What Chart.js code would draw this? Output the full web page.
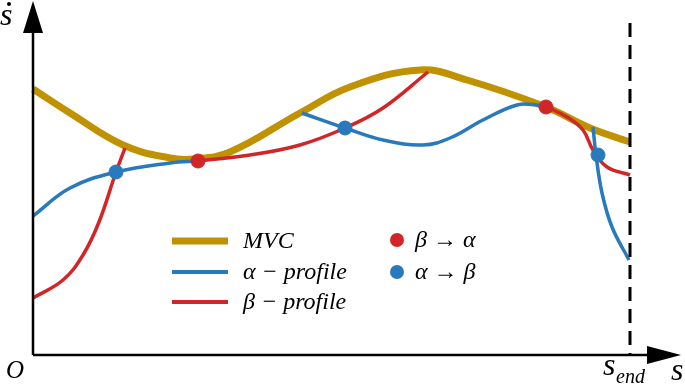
<!DOCTYPE html>
<html>
<head>
<meta charset="utf-8">
<script src="https://cdn.jsdelivr.net/npm/chart.js@4"></script>
<style>
  html, body { margin:0; padding:0; background:#fff; }
  #wrap { width:685px; height:384px; position:relative; }
  .probe { position:absolute; left:0; top:0; font:italic 24px "Liberation Serif"; color:transparent; }
</style>
</head>
<body>
<div class="probe">MVC profile s O end</div>
<div id="wrap"><canvas id="phaseChart"></canvas></div>
<div id="note" style="position:absolute;left:-9999px;top:0"></div>
<script>
// values (x: s, y: s-dot, arbitrary units)
const mvc = [[0,266],[37,242],[90,210],[137,197],[160,196],[197,203],[267,242],[317,268],[387,285],[434,275],[513,248],[557,227],[597,213]];

const alpha1 = [[0,139],[37,167],[83,183],[137,192],[165,194]];
const alpha2 = [[269,242],[312,227],[350,215],[390,210],[417,217],[450,235],[484,250],[504,250],[514,248]];
const alpha3 = [[560,228],[563,200],[569,162],[579,128],[596,95]];

const beta1 = [[0,57],[30,75],[50,100],[66,133],[83,183],[92,207]];
const beta2 = [[165,194],[217,200],[267,210],[312,227],[350,247],[395,283]];
const beta3 = [[514,248],[534,238],[550,225],[560,205],[574,188],[597,180]];

const betaToAlpha = [[165,194],[513,248]];
const alphaToBeta = [[83,183],[312,227],[565,200]];

const sEnd = 597;

const GOLD = 'rgb(192,145,0)';
const BLUE = 'rgb(40,122,188)';
const RED = 'rgb(208,38,40)';

function pts(a) {
    return a.map(p => ({x:p[0], y:p[1]}));
}

function curve(a, color, width, order) {
    return {
        type:'line',
        data: pts(a),
        borderColor: color,
        borderWidth: width,
        pointRadius: 0,
        tension: 0.4,
        fill: false,
        clip: false,
        order: order
    };
}

function dots(a, color) {
    return {
        type:'scatter',
        data: pts(a),
        backgroundColor: color,
        borderColor: color,
        pointRadius: 7,
        pointHoverRadius: 7,
        clip: false,
        order: 0
    };
}

// set the font and read it back (forces it to resolve)
function setFont(ctx, size) {
    ctx.font = 'italic ' + size + 'px "Liberation Serif"';
    const f = ctx.font;
    document.getElementById('note').textContent = f;
    return f;
}

const decor = {
    id:'decor',
    afterDraw(chart) {
        const ctx = chart.ctx;
        const xs = chart.scales.x, ys = chart.scales.y;
        const x0 = xs.getPixelForValue(0), y0 = ys.getPixelForValue(0);
        ctx.save();

        // legend
        const rows = [
            {c:GOLD, w:7, t:'MVC', y:241},
            {c:BLUE, w:4, t:'\u03b1 \u2212 profile', y:272},
            {c:RED, w:4, t:'\u03b2 \u2212 profile', y:302}
        ];
        setFont(ctx, 24);
        ctx.textBaseline = 'middle';
        ctx.textAlign = 'left';
        rows.forEach(r => {
            ctx.strokeStyle = r.c;
            ctx.lineWidth = r.w;
            ctx.beginPath();
            ctx.moveTo(172, r.y);
            ctx.lineTo(228, r.y);
            ctx.stroke();
            ctx.fillStyle = '#000';
            ctx.fillText(r.t, 243, r.y + 1);
        });
        const drows = [
            {c:RED, t:'\u03b2 \u2192 \u03b1', y:240},
            {c:BLUE, t:'\u03b1 \u2192 \u03b2', y:272}
        ];
        drows.forEach(r => {
            ctx.fillStyle = r.c;
            ctx.beginPath();
            ctx.arc(397, r.y, 7, 0, Math.PI * 2);
            ctx.fill();
            ctx.fillStyle = '#000';
            ctx.fillText(r.t, 415, r.y + 1);
        });

        // dashed s_end line
        const xe = xs.getPixelForValue(sEnd);
        ctx.strokeStyle = '#000';
        ctx.lineWidth = 3;
        ctx.setLineDash([14, 8]);
        ctx.beginPath();
        ctx.moveTo(xe, 23);
        ctx.lineTo(xe, y0);
        ctx.stroke();
        ctx.setLineDash([]);

        // axes with arrow heads
        ctx.lineWidth = 2.5;
        ctx.beginPath();
        ctx.moveTo(x0, y0);
        ctx.lineTo(x0, 30);
        ctx.moveTo(x0, y0);
        ctx.lineTo(650, y0);
        ctx.stroke();
        ctx.fillStyle = '#000';
        ctx.beginPath();
        ctx.moveTo(x0, 1);
        ctx.lineTo(x0 - 10, 33);
        ctx.lineTo(x0 + 10, 33);
        ctx.closePath();
        ctx.fill();
        ctx.beginPath();
        ctx.moveTo(681, y0);
        ctx.lineTo(647, y0 - 9);
        ctx.lineTo(647, y0 + 9);
        ctx.closePath();
        ctx.fill();

        // axis labels
        ctx.textBaseline = 'alphabetic';
        setFont(ctx, 32);
        ctx.fillText('s', 0, 25);
        ctx.beginPath();
        ctx.arc(9, 4, 2, 0, Math.PI * 2);
        ctx.fill();
        ctx.fillText('s', 603, 375);
        ctx.fillText('s', 671, 380);
        setFont(ctx, 25);
        ctx.fillText('O', 6, 378);
        setFont(ctx, 20);
        ctx.fillText('end', 616, 383);
        ctx.restore();
    }
};

let phaseChart = new Chart(document.getElementById('phaseChart'), {
    data: {
        datasets: [
            curve(mvc, GOLD, 7, 3),
            curve(beta1, RED, 3.5, 2),
            curve(beta2, RED, 3.5, 2),
            curve(beta3, RED, 3.5, 2),
            curve(alpha1, BLUE, 3.5, 1),
            curve(alpha2, BLUE, 3.5, 1),
            curve(alpha3, BLUE, 3.5, 1),
            dots(betaToAlpha, RED),
            dots(alphaToBeta, BLUE)
        ]
    },
    options: {
        responsive: true,
        maintainAspectRatio: false,
        animation: false,
        layout: { autoPadding:false, padding: { left:33, right:2, top:5, bottom:29 } },
        plugins: { legend: { display:false }, tooltip: { enabled:false } },
        scales: {
            x: { type:'linear', min:0, max:650, display:false },
            y: { type:'linear', min:0, max:350, display:false }
        }
    },
    plugins: [decor]
});

function redraw() { phaseChart.update('none'); }
if (document.fonts && document.fonts.ready) document.fonts.ready.then(redraw);
window.addEventListener('load', redraw);
setTimeout(redraw, 100);
</script>
</body>
</html>
